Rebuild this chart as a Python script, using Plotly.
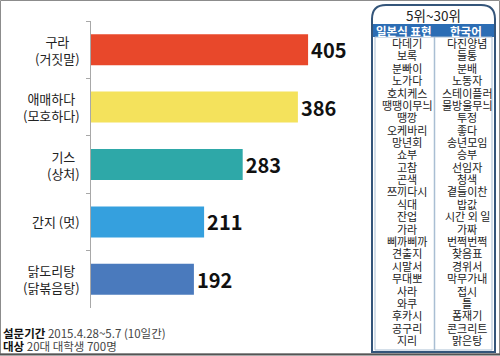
import plotly.graph_objects as go

# ---------------- data ----------------
categories = ["구라", "애매하다", "기스", "간지", "닭도리탕"]
category_labels = ["구라<br>(거짓말)", "애매하다<br>(모호하다)", "기스<br>(상처)", "간지 (멋)", "닭도리탕<br>(닭볶음탕)"]
values = [405, 386, 283, 211, 192]
bar_colors = ["#E8482B", "#F4E25C", "#2EA8A8", "#35A0DE", "#4A7ABD"]

table_title = "5위~30위"
col_headers = ["일본식 표현", "한국어"]
jp_terms = ["다데기", "보록", "분빠이", "노가다", "호치케스", "땡땡이무늬", "땡깡", "오케바리",
            "망년회", "쇼부", "고참", "곤색", "쯔끼다시", "식대", "잔업", "가라", "삐까삐까",
            "견출지", "시말서", "무대뽀", "사라", "와쿠", "후카시", "공구리", "지리"]
kr_terms = ["다진양념", "들통", "분배", "노동자", "스테이플러", "물방울무늬", "투정", "좋다",
            "송년모임", "승부", "선임자", "청색", "곁들이찬", "밥값", "시간 외 일", "가짜", "번쩍번쩍",
            "찾음표", "경위서", "막무가내", "접시", "틀", "폼재기", "콘크리트", "맑은탕"]

footer_keys = ["설문기간", "대상"]
footer_vals = ["2015.4.28~5.7 (10일간)", "20대 대학생 700명"]

# ---------------- helpers ----------------
W, H = 500, 356
FONT = "Noto Sans CJK KR"


def px(x):
    return x / W


def py(y):
    return 1 - y / H


fig = go.Figure(
    go.Bar(
        y=categories,
        x=values,
        orientation="h",
        marker=dict(color=bar_colors, line=dict(width=0)),
        width=0.54,
        text=[f"<b>{v}</b>" for v in values],
        textposition="outside",
        textfont=dict(size=20, color="#111111", family=FONT),
        cliponaxis=False,
        hoverinfo="skip",
    )
)

scale = 0.536  # px per unit
x_left, x_right = 91, 370
fig.update_xaxes(
    domain=[px(x_left), px(x_right)],
    range=[0, (x_right - x_left) / scale],
    visible=False,
)
fig.update_yaxes(
    domain=[py(308), py(21)],
    categoryorder="array",
    categoryarray=categories,
    autorange="reversed",
    showline=True,
    linecolor="#A8A8A8",
    linewidth=1,
    ticks="outside",
    tickson="boundaries",
    ticklen=4,
    tickcolor="#A8A8A8",
    showticklabels=False,
    showgrid=False,
    zeroline=False,
)

annotations = []
for cat, lab in zip(categories, category_labels):
    annotations.append(dict(
        x=px(82), xref="paper", y=cat, yref="y", text=lab, showarrow=False,
        xanchor="right", yanchor="middle", align="center",
        font=dict(size=13, color="#222222", family=FONT),
    ))

# table box
tx0, tx1, ty0, ty1 = 372, 495, 5, 352
r = 14
path = (f"M {px(tx0)},{py(ty1)} L {px(tx0)},{py(ty0 + r)} "
        f"Q {px(tx0)},{py(ty0)} {px(tx0 + r)},{py(ty0)} "
        f"L {px(tx1 - r)},{py(ty0)} Q {px(tx1)},{py(ty0)} {px(tx1)},{py(ty0 + r)} "
        f"L {px(tx1)},{py(ty1)} Z")
shapes = [
    # outer image frame
    dict(type="rect", xref="paper", yref="paper", x0=px(0.5), x1=px(499.5), y0=py(354), y1=py(0.5),
         line=dict(color="#8C8C8C", width=1), fillcolor="rgba(0,0,0,0)", layer="below"),
    dict(type="line", xref="paper", yref="paper", x0=0, x1=1, y0=py(354.5), y1=py(354.5),
         line=dict(color="#555555", width=2)),
    dict(type="path", xref="paper", yref="paper", path=path,
         line=dict(color="#34557A", width=2), fillcolor="white", layer="below"),
    # header band
    dict(type="rect", xref="paper", yref="paper", x0=px(373), x1=px(494), y0=py(37), y1=py(24),
         line=dict(width=0), fillcolor="#2C6DB4"),
    # inner light frame
    dict(type="rect", xref="paper", yref="paper", x0=px(375), x1=px(492), y0=py(350), y1=py(37),
         line=dict(color="#A9BED3", width=1), fillcolor="rgba(0,0,0,0)"),
    # column divider
    dict(type="line", xref="paper", yref="paper", x0=px(434.5), x1=px(434.5), y0=py(350), y1=py(37),
         line=dict(color="#A9BED3", width=1.5)),
]

annotations.append(dict(
    x=px(433), xref="paper", y=py(15), yref="paper", text=table_title, showarrow=False,
    xanchor="center", yanchor="middle", font=dict(size=13.5, color="#222222", family=FONT),
))
for cx, h in zip([404, 466], col_headers):
    annotations.append(dict(
        x=px(cx), xref="paper", y=py(30.5), yref="paper", text=f"<b>{h}</b>", showarrow=False,
        xanchor="center", yanchor="middle", font=dict(size=11.5, color="white", family=FONT),
    ))

row0, step = 43, (340 - 43) / (len(jp_terms) - 1)
for i, (a, b) in enumerate(zip(jp_terms, kr_terms)):
    yy = py(row0 + i * step)
    annotations.append(dict(
        x=px(407), xref="paper", y=yy, yref="paper", text=a, showarrow=False,
        xanchor="center", yanchor="middle", font=dict(size=11, color="#222222", family=FONT),
    ))
    annotations.append(dict(
        x=px(467), xref="paper", y=yy, yref="paper", text=b, showarrow=False,
        xanchor="center", yanchor="middle", font=dict(size=11, color="#222222", family=FONT),
    ))

for (k, v), yline in zip(zip(footer_keys, footer_vals), [333, 345.5]):
    annotations.append(dict(
        x=px(1), xref="paper", y=py(yline), yref="paper",
        text=f"<b>{k}</b> <span style='color:#444444'>{v}</span>", showarrow=False,
        xanchor="left", yanchor="middle", font=dict(size=11.5, color="#111111", family=FONT),
    ))

fig.update_layout(
    width=W, height=H,
    margin=dict(l=0, r=0, t=0, b=0),
    paper_bgcolor="white", plot_bgcolor="white",
    showlegend=False,
    shapes=shapes,
    annotations=annotations,
    font=dict(family=FONT),
)

fig.write_html("out.html", config={"displayModeBar": False},
               post_script="document.body.style.margin='0';")
